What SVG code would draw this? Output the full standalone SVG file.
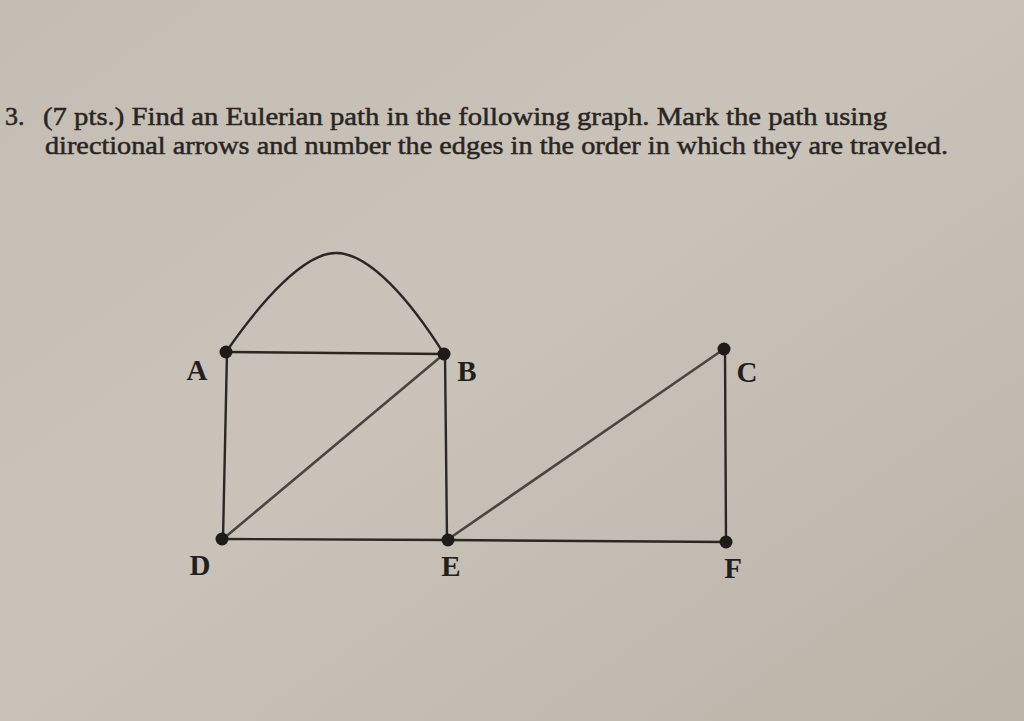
<svg xmlns="http://www.w3.org/2000/svg" width="1024" height="721" viewBox="0 0 1024 721">
<defs>
<linearGradient id="bg" x1="0" y1="0" x2="1" y2="1">
<stop offset="0" stop-color="#c4bdb3"/>
<stop offset="0.45" stop-color="#c9c3ba"/>
<stop offset="1" stop-color="#bcb4a9"/>
</linearGradient>
<style>
.q{font-family:"Liberation Serif","Times New Roman",serif;font-size:26px;fill:#2a2522;stroke:#2a2522;stroke-width:0.5}
.lbl{font-family:"Liberation Serif","Times New Roman",serif;font-size:29px;font-weight:bold;fill:#231f1c;text-anchor:middle}
.e{stroke:#2a2725;stroke-width:2.4;fill:none;stroke-linecap:round}
.d{stroke:#4a4541;stroke-width:2.6;fill:none;stroke-linecap:round}
.n{fill:#1e1b19}
</style>
</defs>
<rect width="1024" height="721" fill="url(#bg)"/>
<g id="question">
<text class="q" x="5" y="125">3.</text>
<text class="q" x="43" y="125" textLength="844" lengthAdjust="spacingAndGlyphs">(7 pts.)  Find an Eulerian path in the following graph.  Mark the path using</text>
<text class="q" x="45" y="154" textLength="903" lengthAdjust="spacingAndGlyphs">directional arrows and number the edges in the order in which they are traveled.</text>
</g>
<g id="connectors">
<path class="e" d="M226 352 C 262 300, 305 252, 337 253 C 370 254, 410 300, 444 354"/>
<line class="e" x1="226" y1="352" x2="444" y2="354"/>
<line class="e" x1="227" y1="352" x2="223" y2="539"/>
<line class="d" x1="444" y1="354" x2="223" y2="539"/>
<line class="e" x1="445" y1="354" x2="447" y2="540"/>
<line class="e" x1="223" y1="539" x2="447" y2="540"/>
<line class="e" x1="447" y1="540" x2="726" y2="542"/>
<line class="d" x1="447" y1="540" x2="724" y2="349"/>
<line class="e" x1="725" y1="349" x2="726" y2="542"/>
</g>
<g id="node-A"><circle class="n" cx="226" cy="352" r="6.5"/><text class="lbl" x="197" y="380">A</text></g>
<g id="node-B"><circle class="n" cx="444" cy="354" r="6.5"/><text class="lbl" x="467" y="381">B</text></g>
<g id="node-C"><circle class="n" cx="724" cy="349" r="6.5"/><text class="lbl" x="747" y="382">C</text></g>
<g id="node-D"><circle class="n" cx="222" cy="539" r="6.5"/><text class="lbl" x="200" y="575">D</text></g>
<g id="node-E"><circle class="n" cx="448" cy="540" r="6.5"/><text class="lbl" x="451" y="576">E</text></g>
<g id="node-F"><circle class="n" cx="726" cy="542" r="6.5"/><text class="lbl" x="733" y="578">F</text></g>
</svg>
